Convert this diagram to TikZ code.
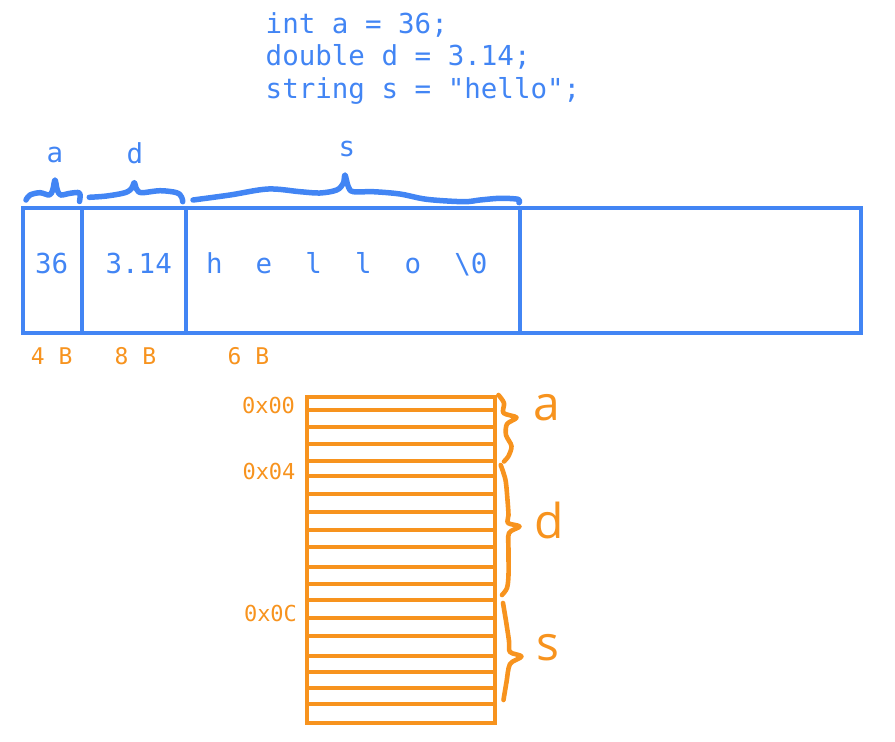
\documentclass[tikz,border=0pt]{standalone}
\usepackage{fontspec}
\setmonofont{DejaVu Sans Mono}
\newfontfamily\labelsans{Open Sans}
\definecolor{gblue}{RGB}{66,133,244}
\definecolor{gorange}{RGB}{247,147,30}
\begin{document}
\begin{tikzpicture}[x=1pt,y=-1pt,
  code/.style={text=gblue, font=\ttfamily\fontsize{27.5}{33}\selectfont, inner sep=0pt, anchor=base},
  bytes/.style={text=gorange, font=\ttfamily\fontsize{23}{27}\selectfont, inner sep=0pt, anchor=base},
  addr/.style={text=gorange, font=\ttfamily\fontsize{22}{26}\selectfont, inner sep=0pt, anchor=base},
  bigname/.style={text=gorange, font=\labelsans\fontsize{48}{56}\selectfont, inner sep=0pt, anchor=base},
  bluebox/.style={draw=gblue, line width=3.8pt, line join=miter},
  orangebox/.style={draw=gorange, line width=3.6pt},
  bluebrace/.style={draw=gblue, line width=5.5pt, line cap=round, line join=round},
  orangebrace/.style={draw=gorange, line width=4.6pt, line cap=round, line join=round}]
\useasboundingbox (0,0) rectangle (895,742);

% code
\node[code, anchor=base west] (l1) at (265.5,33.3) {int a = 36;};
\node[code, anchor=base west] (l2) at (265.5,65.6) {double d = 3.14;};
\node[code, anchor=base west] (l3) at (265.5,98) {string s = "hello";};

% memory row
\draw[bluebox] (23,208) rectangle (861,333);
\draw[bluebox] (82,208) -- (82,333);
\draw[bluebox] (186,208) -- (186,333);
\draw[bluebox] (520,208) -- (520,333);
\node[code] (va) at (51.7,273.3) {36};
\node[code] (vd) at (138.7,273.3) {3.14};
\node[code] (vs) at (346.8,273.3) {h\ \ e\ \ l\ \ l\ \ o\ \ \textbackslash0};

% names above
\node[code] (na) at (55,162.7) {a};
\node[code] (nd) at (135,163) {d};
\node[code] (ns) at (347,156.7) {s};

% blue braces
\draw[bluebrace] plot[smooth, tension=0.55] coordinates {(26,200) (30,195) (40,192.7) (49.3,195) (52.7,190) (55,180) (57.3,190) (60.7,195) (70,193.3) (79.5,193) (79.5,201.5)};
\draw[bluebrace] plot[smooth, tension=0.55] coordinates {(89.3,197.3) (106.7,196) (125,192.7) (131.7,188.3) (134.3,182.7) (136.7,189.3) (141.7,192.7) (160,190.7) (176.7,192.7) (181.7,197.3) (182.7,201.7)};
\draw[bluebrace] plot[smooth, tension=0.55] coordinates {(193,200) (230,195) (268,189) (300,191.7) (320,193) (336.7,190) (343.3,183.3) (345,175) (348.3,186.7) (353.3,191.7) (373.3,191.7) (400,194) (426.7,199.3) (463.3,201.7) (480,200) (500,198.3) (518.3,199.3) (519,202.7)};

% byte sizes
\node[bytes] (ba) at (51.7,364) {4 B};
\node[bytes] (bd) at (135.5,364) {8 B};
\node[bytes] (bs) at (248.5,364) {6 B};

% byte stack
\draw[orangebox] (307,397) rectangle (495,723);
\foreach \yy in {410,427,444,461,476,494,512,530,547,567,584,600,618,636,656,672,688,704}
  \draw[orangebox] (307,\yy) -- (495,\yy);

% addresses
\node[addr] (a0) at (268.5,413) {0x00};
\node[addr] (a4) at (269,479.5) {0x04};
\node[addr] (ac) at (270.5,621) {0x0C};

% orange braces
\draw[orangebrace] plot[smooth, tension=0.5] coordinates {(498.5,395) (504,403) (503.5,413) (516.5,417.5) (507,424) (506,435) (511.5,446) (508.5,456) (504,461.5)};
\draw[orangebrace] plot[smooth, tension=0.5] coordinates {(500.7,465) (505.5,480) (507.5,500) (508.5,515) (508,523) (519.5,526.5) (509,533) (508.5,550) (508.5,575) (507,588) (502,595)};
\draw[orangebrace] plot[smooth, tension=0.5] coordinates {(503,603) (506,621) (509,641) (510,652) (521.5,656.5) (510,664) (506.5,682) (503.5,700)};

% big names
\node[bigname] (ka) at (546.5,420.7) {a};
\node[bigname] (kd) at (549,538) {d};
\node[bigname] (ks) at (547.5,660) {s};
\end{tikzpicture}
\end{document}
